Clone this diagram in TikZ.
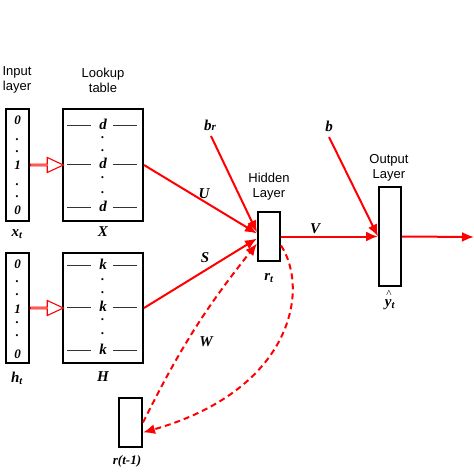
\documentclass[tikz,border=0pt]{standalone}
\usepackage{fontspec}
\setmainfont{Liberation Serif}
\setsansfont{Liberation Sans}
\usepackage{amsmath}
\usetikzlibrary{arrows.meta,shapes.arrows}

\begin{document}
\begin{tikzpicture}[x=1pt,y=-1pt,
    layerbox/.style={draw, line width=2pt, inner sep=0pt},
    caption/.style={font=\sffamily\fontsize{13}{15}\selectfont, align=center},
    sym/.style={font=\bfseries\itshape\fontsize{15}{17}\selectfont, inner sep=0pt},
    entry/.style={font=\bfseries\itshape\fontsize{13}{15}\selectfont, inner sep=0pt},
    rowline/.style={black!80, line width=1pt},
    wire/.style={red, line width=2pt, -{Latex[length=12pt,width=10pt]}},
    feed/.style={single arrow, draw=red, line width=1.1pt, fill=white, minimum height=33pt,
        minimum width=15pt, single arrow head extend=4.5pt, single arrow tip angle=50,
        inner sep=0pt}]

    \useasboundingbox (0,0) rectangle (474,474);

    %% captions
    \node[caption] (incap) at (17,80) {Input\\layer};
    \node[caption] (lookcap) at (103,80) {Lookup\\table};
    \node[caption] (hidcap) at (269,187) {Hidden\\Layer};
    \node[caption] (outcap) at (389,168) {Output\\Layer};

    %% one-hot columns
    \node[layerbox, minimum width=23pt, minimum height=112pt] (xt) at (17.5,165) {};
    \node[layerbox, minimum width=23pt, minimum height=110pt] (ht) at (17.5,308) {};
    \node[entry] (x0a) at (17.5,120) {0};
    \node[entry] (x1) at (17.5,165) {1};
    \node[entry] (x0b) at (17.5,210) {0};
    \foreach \y [count=\i] in {140,152,185,197}
        \node[entry] (xdot\i) at (17.5,\y) {.};
    \node[entry] (h0a) at (17.5,264) {0};
    \node[entry] (h1) at (17.5,309) {1};
    \node[entry] (h0b) at (17.5,354) {0};
    \foreach \y [count=\i] in {282,295,323,336}
        \node[entry] (hdot\i) at (17.5,\y) {.};

    %% lookup tables
    \node[layerbox, minimum width=80pt, minimum height=112pt] (X) at (103,165) {};
    \node[layerbox, minimum width=80pt, minimum height=110pt] (H) at (103,308) {};
    \foreach \y [count=\i] in {125,164,207} {
        \draw[rowline] (67,\y) -- (91,\y);
        \draw[rowline] (113,\y) -- (137,\y);
        \node[sym] (d\i) at (103,\y-1) {d};
    }
    \foreach \y [count=\i] in {138,151,178,193}
        \node[entry] (ddot\i) at (103,\y) {.};
    \foreach \y [count=\i] in {265,307,350} {
        \draw[rowline] (67,\y) -- (91,\y);
        \draw[rowline] (113,\y) -- (137,\y);
        \node[sym] (k\i) at (103,\y-1) {k};
    }
    \foreach \y [count=\i] in {280,293,320,334}
        \node[entry] (kdot\i) at (103,\y) {.};

    %% hollow feed arrows
    \node[feed] (feedx) at (46,165) {};
    \node[feed] (feedh) at (46,308) {};

    %% layers
    \node[layerbox, minimum width=22pt, minimum height=49pt] (rt) at (269,236.5) {};
    \node[layerbox, minimum width=22pt, minimum height=99pt] (out) at (390,236.5) {};
    \node[layerbox, minimum width=23pt, minimum height=49pt] (rprev) at (130.5,422.5) {};

    %% labels
    \node[sym] (xtlab) at (17,234) {x\textsubscript{t}};
    \node[sym] (Xlab) at (103,232) {X};
    \node[sym] (htlab) at (17,378) {h\textsubscript{t}};
    \node[sym] (Hlab) at (103,377) {H};
    \node[sym] (rtlab) at (269,278) {r\textsubscript{t}};
    \node[sym, font=\bfseries\itshape\fontsize{13}{15}\selectfont] (rprevlab) at (127,461) {r(t-1)};
    \node[sym] (ylab) at (390,300)
        {\rlap{\raisebox{9pt}{\kern1.5pt\normalfont\fontsize{11}{11}\selectfont\textasciicircum}}y\textsubscript{t}};
    \node[sym] (Ulab) at (204,194) {U};
    \node[sym] (Slab) at (205,258) {S};
    \node[sym] (Vlab) at (315,229) {V};
    \node[sym] (Wlab) at (206,342) {W};
    \node[sym] (brlab) at (210,125) {b{\fontsize{11}{12}\selectfont r}};
    \node[sym] (blab) at (329,126) {b};

    %% bias ends
    \coordinate (brend) at (211,136);
    \coordinate (bend) at (329,137);
    \coordinate (exit) at (474,237);

    %% connections
    \draw[wire] (X.east) -- ([yshift=3pt]rt.west);
    \draw[wire] (brend) -- ([yshift=4pt]rt.west);
    \draw[wire] (H.east) -- ([yshift=-2pt]rt.west);
    \draw[wire] (rt.east) -- (out.west);
    \draw[wire] (bend) -- (out.west);
    \draw[wire] (out.east) -- (exit);
    \draw[wire, dashed, dash pattern=on 6pt off 4pt] (rprev.east) to[bend left=6] ([yshift=-7pt]rt.west);
    \draw[wire, dashed, dash pattern=on 6pt off 4pt] ([yshift=-9pt]rt.east)
        .. controls (310,290) and (292,390) .. ([yshift=-10pt]rprev.east);

\end{tikzpicture}
\end{document}
